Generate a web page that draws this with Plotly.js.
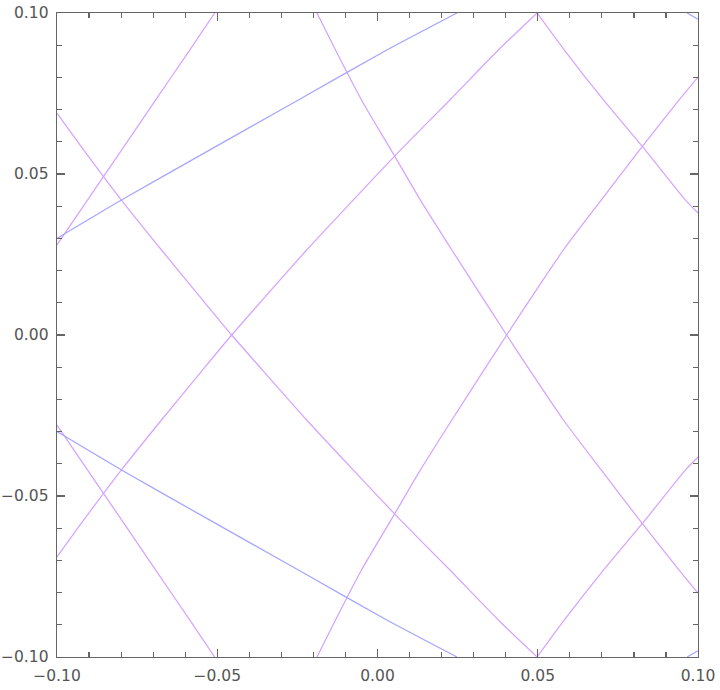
<!DOCTYPE html>
<html>
<head>
<meta charset="utf-8">
<script src="https://cdn.plot.ly/plotly-3.0.1.min.js"></script>
<style>html,body{margin:0;padding:0;background:#fff;}#chart{width:720px;height:690px;}</style>
</head>
<body>
<div id="chart"></div>
<script>
// Purple curves
const A_x = [-0.1, -0.0917, -0.0799, -0.0674, -0.0546, -0.0455, -0.0359, -0.0221, -0.0076, 0.0072, 0.0226, 0.0377, 0.0498];
const A_y = [-0.0689, -0.0575, -0.0419, -0.0264, -0.0109, 0.0, 0.0109, 0.0264, 0.0419, 0.0575, 0.0730, 0.0885, 0.1];
const B_x = [-0.1, -0.0917, -0.0799, -0.0674, -0.0546, -0.0455, -0.0359, -0.0221, -0.0076, 0.0072, 0.0226, 0.0377, 0.0498];
const B_y = [0.0689, 0.0575, 0.0419, 0.0264, 0.0109, 0.0, -0.0109, -0.0264, -0.0419, -0.0575, -0.0730, -0.0885, -0.1];
const C_x = [-0.0189, -0.0131, -0.0050, 0.0042, 0.0134, 0.0232, 0.0332, 0.0403, 0.0475, 0.0580, 0.0698, 0.0818, 0.0941, 0.1];
const C_y = [0.1, 0.0885, 0.0730, 0.0575, 0.0419, 0.0264, 0.0109, 0.0, -0.0109, -0.0264, -0.0419, -0.0575, -0.0730, -0.0801];
const D_x = [-0.0189, -0.0131, -0.0050, 0.0042, 0.0134, 0.0232, 0.0332, 0.0403, 0.0475, 0.0580, 0.0698, 0.0818, 0.0941, 0.1];
const D_y = [-0.1, -0.0885, -0.0730, -0.0575, -0.0419, -0.0264, -0.0109, 0.0, 0.0109, 0.0264, 0.0419, 0.0575, 0.0730, 0.0801];
const E_x = [0.0498, 0.0583, 0.0705, 0.0835, 0.0961, 0.1];
const E_y = [0.1, 0.0885, 0.0730, 0.0575, 0.0419, 0.0379];
const F_x = [0.0498, 0.0583, 0.0705, 0.0835, 0.0961, 0.1];
const F_y = [-0.1, -0.0885, -0.0730, -0.0575, -0.0419, -0.0379];
const G_x = [-0.1, -0.0905, -0.0798, -0.0692, -0.0586, -0.0508];
const G_y = [0.028, 0.0419, 0.0575, 0.0730, 0.0885, 0.1];
const H_x = [-0.1, -0.0905, -0.0798, -0.0692, -0.0586, -0.0508];
const H_y = [-0.028, -0.0419, -0.0575, -0.0730, -0.0885, -0.1];
// Blue curves
const I_x = [-0.1, -0.0799, -0.0523, -0.0247, 0.0029, 0.0248];
const I_y = [0.030, 0.0419, 0.0575, 0.0730, 0.0885, 0.1];
const J_x = [-0.1, -0.0799, -0.0523, -0.0247, 0.0029, 0.0248];
const J_y = [-0.030, -0.0419, -0.0575, -0.0730, -0.0885, -0.1];
const K_x = [0.0966, 0.1];
const K_y = [0.1, 0.0981];
const L_x = [0.0966, 0.1];
const L_y = [-0.1, -0.0981];

const tickVals = [-0.1, -0.05, 0, 0.05, 0.1];
const tickText = ['\u22120.10', '\u22120.05', '0.00', '0.05', '0.10'];

const purple = '#d6a3ff';
const blue = '#a6a6ff';
function tr(x, y, c) {
  return {x: x, y: y, type: 'scatter', mode: 'lines',
          line: {color: c, width: 1.25, shape: 'spline', smoothing: 0.6},
          hoverinfo: 'skip', showlegend: false};
}
const data = [
  tr(A_x, A_y, purple), tr(B_x, B_y, purple), tr(C_x, C_y, purple), tr(D_x, D_y, purple),
  tr(E_x, E_y, purple), tr(F_x, F_y, purple), tr(G_x, G_y, purple), tr(H_x, H_y, purple),
  tr(I_x, I_y, blue), tr(J_x, J_y, blue), tr(K_x, K_y, blue), tr(L_x, L_y, blue)
];

function ax() {
  return {
    range: [-0.1, 0.1], autorange: false, showgrid: false, zeroline: false,
    showline: true, linecolor: '#666', linewidth: 1.4, mirror: 'ticks',
    ticks: 'inside', ticklen: 8, tickwidth: 1.3, tickcolor: '#666',
    tickmode: 'array', tickvals: tickVals, ticktext: tickText,
    tickfont: {family: 'DejaVu Sans', size: 15.5, color: '#555'},
    ticklabelstandoff: 4,
    minor: {dtick: 0.01, tick0: 0, ticks: 'inside', ticklen: 5, tickwidth: 1.2, tickcolor: '#666', showgrid: false}
  };
}
const layout = {
  width: 720, height: 690,
  margin: {l: 57, r: 22, t: 13, b: 33},
  paper_bgcolor: '#fff', plot_bgcolor: '#fff',
  xaxis: ax(), yaxis: ax(),
  showlegend: false
};
Plotly.newPlot('chart', data, layout, {displayModeBar: false, staticPlot: true});
</script>
</body>
</html>
